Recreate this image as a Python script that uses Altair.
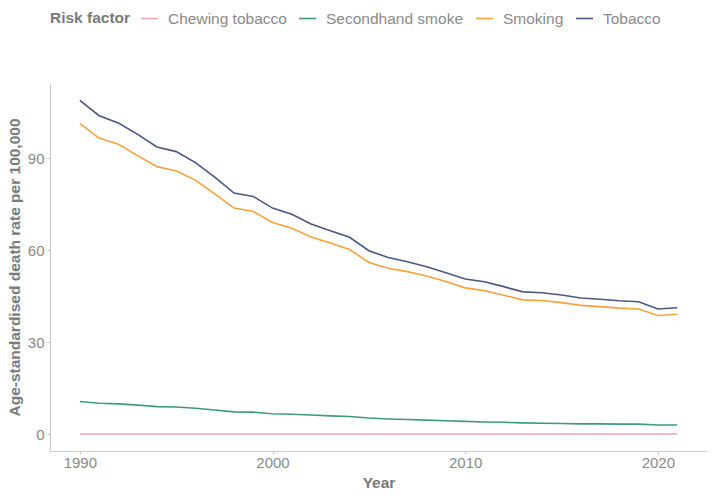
import altair as alt
import pandas as pd

years = list(range(1990, 2022))

tobacco = [108.8, 103.8, 101.4, 97.7, 93.6, 92.1, 88.5, 83.8, 78.6, 77.5,
           73.7, 71.7, 68.5, 66.3, 64.2, 59.8, 57.6, 56.2, 54.6, 52.6,
           50.6, 49.7, 48.1, 46.4, 46.1, 45.4, 44.4, 44.0, 43.5, 43.2,
           40.8, 41.2]
smoking = [101.2, 96.5, 94.5, 90.8, 87.2, 85.8, 82.8, 78.3, 73.7, 72.6,
           69.0, 67.1, 64.3, 62.3, 60.2, 56.0, 54.1, 53.0, 51.6, 49.8,
           47.7, 46.8, 45.3, 43.8, 43.6, 42.9, 42.0, 41.6, 41.1, 40.8,
           38.7, 39.1]
secondhand = [10.7, 10.1, 9.9, 9.5, 9.0, 8.9, 8.5, 7.9, 7.3, 7.2,
              6.7, 6.5, 6.3, 6.0, 5.8, 5.3, 5.0, 4.8, 4.6, 4.4,
              4.2, 4.0, 3.9, 3.7, 3.6, 3.5, 3.4, 3.4, 3.3, 3.3,
              3.0, 3.0]
chewing = [0.1] * len(years)

factors = ["Chewing tobacco", "Secondhand smoke", "Smoking", "Tobacco"]
colors = ["#F4A3B0", "#3F9A7D", "#F7A23B", "#4B5683"]

series = {
    "Chewing tobacco": chewing,
    "Secondhand smoke": secondhand,
    "Smoking": smoking,
    "Tobacco": tobacco,
}

rows = []
for name, vals in series.items():
    for yr, v in zip(years, vals):
        rows.append({"Year": yr, "Risk factor": name, "Rate": v})
df = pd.DataFrame(rows)

FONT = "Liberation Sans"
GREY = "#8a8a8a"
TITLE_GREY = "#7a7a7a"

chart = (
    alt.Chart(df)
    .mark_line(strokeWidth=1.6)
    .encode(
        x=alt.X(
            "Year:Q",
            scale=alt.Scale(domain=[1988.45, 2022.55], nice=False, zero=False),
            axis=alt.Axis(values=[1990, 2000, 2010, 2020], format="d", title="Year"),
        ),
        y=alt.Y(
            "Rate:Q",
            scale=alt.Scale(domain=[-5.45, 114.45], nice=False, zero=False),
            axis=alt.Axis(values=[0, 30, 60, 90], title="Age-standardised death rate per 100,000"),
        ),
        color=alt.Color(
            "Risk factor:N",
            scale=alt.Scale(domain=factors, range=colors),
            legend=alt.Legend(
                orient="none",
                legendX=0,
                legendY=-74,
                direction="horizontal",
                titleOrient="left",
                symbolType="stroke",
                symbolSize=289,
                symbolStrokeWidth=1.6,
                labelOffset=9,
                columnPadding=8,
            ),
        ),
    )
    .properties(
        width=657,
        height=368,
        autosize=alt.AutoSizeParams(type="none"),
        padding={"left": 50, "top": 83, "right": 9, "bottom": 48},
    )
    .configure_view(stroke=None)
    .configure_axis(
        domainColor="#cccccc",
        domainWidth=1.2,
        tickColor="#cccccc",
        tickSize=3,
        grid=False,
        labelFont=FONT,
        labelFontSize=15,
        labelColor=GREY,
        labelPadding=3,
        titleFont=FONT,
        titleFontSize=15.5,
        titleFontWeight="bold",
        titleColor=TITLE_GREY,
    )
    .configure_axisX(labelPadding=1, titlePadding=5)
    .configure_axisY(titlePadding=5)
    .configure_legend(
        titleFont=FONT,
        titleFontSize=15.5,
        titleFontWeight="bold",
        titleColor=TITLE_GREY,
        titlePadding=9,
        labelFont=FONT,
        labelFontSize=15.5,
        labelColor=GREY,
    )
)

chart.save("out.html", embed_options={"renderer": "svg", "actions": False})
